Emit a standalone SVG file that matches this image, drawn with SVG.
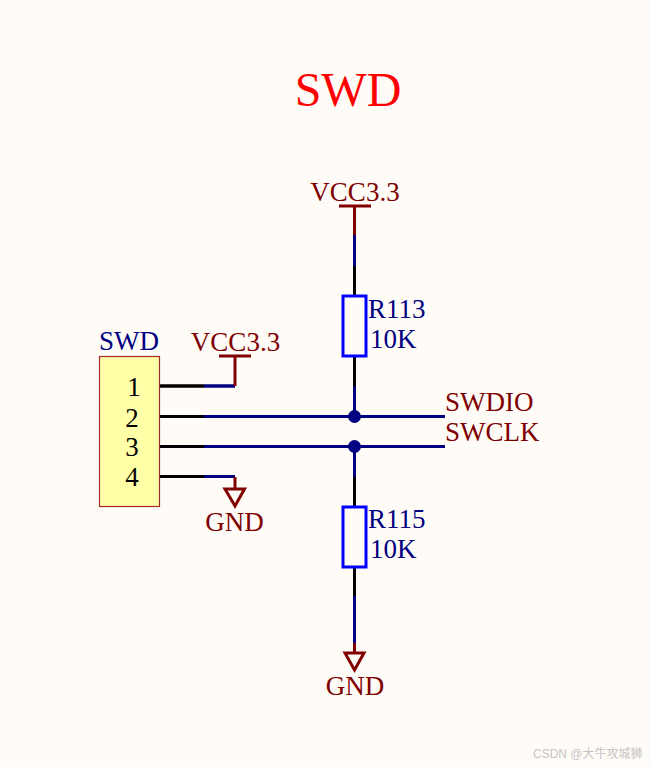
<svg xmlns="http://www.w3.org/2000/svg" width="650" height="767" viewBox="0 0 650 767">
<style>
text{font-family:"Liberation Serif","Times New Roman",serif}
.t{font-size:27px}
.red{fill:#800000}
.blue{fill:#000080}
.w{fill:none;stroke-width:3}
.k{stroke:#000}
.n{stroke:#000080}
.p{stroke:#800000;fill:none;stroke-width:3}
.res{fill:none;stroke:#0000ff;stroke-width:3}
.num{font-size:27px;fill:#000}
</style>
<rect width="650" height="767" fill="#fffcf8"/>
<text x="348" y="106" font-size="48" fill="#ff0000" text-anchor="middle">SWD</text>
<g id="connectors">
<path class="w k" d="M159 386H204" style="stroke-width:3.500"/>
<path class="w n" d="M204 386H235" style="stroke-width:3.500"/>
<path class="w k" d="M159 416.500H204"/>
<path class="w n" d="M204 416.500H445"/>
<path class="w k" d="M159 446.500H204"/>
<path class="w n" d="M204 446.500H445"/>
<path class="w k" d="M159 476.500H204"/>
<path class="w n" d="M204 476.500H235"/>
<path class="w n" d="M354.500 235V266"/>
<path class="w k" d="M354.500 266V296"/>
<path class="w k" d="M354.500 356V386"/>
<path class="w n" d="M354.500 386V417"/>
<path class="w n" d="M354.500 447V477"/>
<path class="w k" d="M354.500 477V507"/>
<path class="w k" d="M354.500 567V596"/>
<path class="w n" d="M354.500 596V643"/>
<circle cx="354.500" cy="416.500" r="6.500" fill="#000080"/>
<circle cx="354.500" cy="446.500" r="6.500" fill="#000080"/>
</g>
<g id="J-SWD">
<rect x="99.500" y="356.500" width="60" height="150" fill="#ffffa8" stroke="#a52a2a" stroke-width="1.200"/>
<text x="99" y="350" class="t blue">SWD</text>
<text x="134" y="396" class="num" text-anchor="middle">1</text>
<text x="132" y="427" class="num" text-anchor="middle">2</text>
<text x="132" y="456" class="num" text-anchor="middle">3</text>
<text x="132" y="486" class="num" text-anchor="middle">4</text>
</g>
<g id="VCC-1">
<path class="p" d="M219 356H251M235 356V386"/>
<text x="235.500" y="351" class="t red" text-anchor="middle">VCC3.3</text>
</g>
<g id="VCC-2">
<path class="p" d="M339 206H371M354.500 206V235"/>
<text x="355" y="201" class="t red" text-anchor="middle">VCC3.3</text>
</g>
<g id="GND-1">
<path class="p" d="M235 477V489M225 489H244.500L235 506Z"/>
<text x="234.500" y="531" class="t red" text-anchor="middle">GND</text>
</g>
<g id="GND-2">
<path class="p" d="M354.500 643V653M345 653H364L354.500 670Z"/>
<text x="355" y="695" class="t red" text-anchor="middle">GND</text>
</g>
<g id="R113">
<rect x="343" y="296" width="23" height="60" class="res"/>
<text x="368" y="318" class="t blue">R113</text>
<text x="370" y="348" class="t blue">10K</text>
</g>
<g id="R115">
<rect x="343" y="507" width="23" height="60" class="res"/>
<text x="368" y="528" class="t blue">R115</text>
<text x="370" y="558" class="t blue">10K</text>
</g>
<g id="SWDIO"><text x="445" y="411" class="t red">SWDIO</text></g>
<g id="SWCLK"><text x="445" y="441" class="t red">SWCLK</text></g>
<text x="533" y="758" font-size="12" fill="#c4c4c4" style="font-family:'Liberation Sans','Noto Sans CJK SC',sans-serif">CSDN @大牛攻城狮</text>
</svg>
